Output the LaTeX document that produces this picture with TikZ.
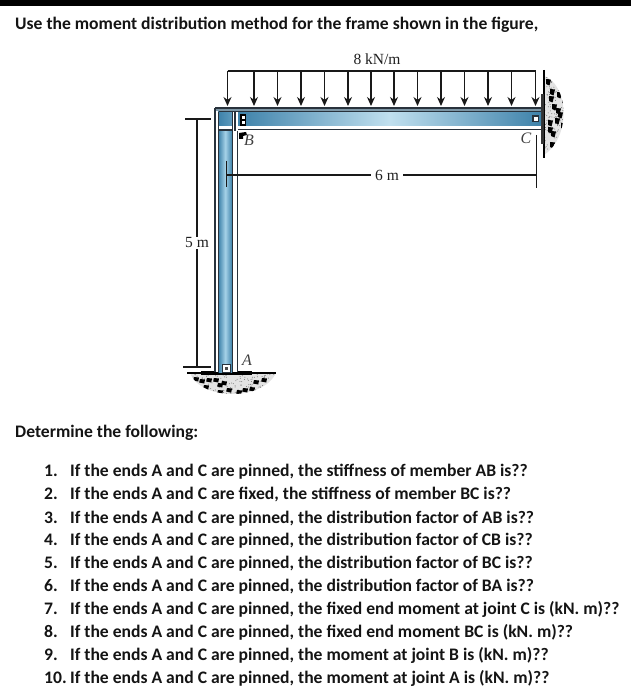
\documentclass[tikz,border=0pt]{standalone}
\usepackage{fontspec}
\setmainfont{Carlito}
\newfontfamily\serifcap{Liberation Serif}
\usetikzlibrary{arrows.meta}
\definecolor{frameline}{RGB}{40,50,60}
\definecolor{bluedark}{RGB}{62,130,170}
\definecolor{bluelight}{RGB}{165,210,232}
\definecolor{flange}{RGB}{125,150,165}
\tikzset{
 qtext/.style={anchor=base west,inner sep=0pt,font=\fontsize{17.6}{20}\selectfont\bfseries,text=black!92},
 jointlabel/.style={inner sep=0pt,font=\fontsize{16}{18}\selectfont\serifcap\itshape,text=black!75},
 dimlabel/.style={inner sep=1pt,font=\fontsize{15.5}{17}\selectfont\serifcap,text=black!88},
 dimline/.style={draw=black!90,line width=1.2pt},
 loadline/.style={draw=black!90,line width=1.2pt},
 loadarrow/.style={draw=black!90,line width=1.2pt,-{Stealth[length=9pt,width=8pt]}},
 edge/.style={draw=frameline,line width=1.1pt},
}
\begin{document}
\begin{tikzpicture}[x=1pt,y=-1pt]
\useasboundingbox (0,0) rectangle (631,700);
\fill[black] (0,0) rectangle (631,6);
% ---------- text
\node[qtext] (title) at (15,30) {Use the moment distribution method for the frame shown in the figure,};
\node[qtext] (det) at (15,437) {Determine the following:};
\foreach \n/\y/\t in {
 1/476/{If the ends A and C are pinned, the stiffness of member AB is??},
 2/499/{If the ends A and C are fixed, the stiffness of member BC is??},
 3/523/{If the ends A and C are pinned, the distribution factor of AB is??},
 4/545/{If the ends A and C are pinned, the distribution factor of CB is??},
 5/568/{If the ends A and C are pinned, the distribution factor of BC is??},
 6/591/{If the ends A and C are pinned, the distribution factor of BA is??},
 7/614/{If the ends A and C are pinned, the fixed end moment at joint C is (kN. m)??},
 8/637/{If the ends A and C are pinned, the fixed end moment BC is (kN. m)??},
 9/660/{If the ends A and C are pinned, the moment at joint B is (kN. m)??},
 10/683/{If the ends A and C are pinned, the moment at joint A is (kN. m)??}}{
 \node[qtext] (n\n) at (44,\y) {\n.};
 \node[qtext] (q\n) at (70,\y) {\t};
}
% ---------- rock, right wall
\begin{scope}
 \fill[gray!22] (544,76) .. controls (568,84) and (572,136) .. (544,155) -- cycle;
 \clip (544,76) .. controls (568,84) and (572,136) .. (544,155) -- cycle;
 \pgfmathsetseed{11}
 \foreach \k in {1,...,200}{\fill[black!55] (544+24*rnd,76+80*rnd) circle (0.5);}
 \foreach \px/\py in {546/79,550/89,557/92,549/96,562/98,552/104,558/112,548/120,555/118,561/123,548/127,551/131,550/142,556/108}{
  \fill[black] (\px,\py) -- ++(5,0.5) -- ++(-1.5,6) -- ++(-3.5,-1.5) -- cycle;}
\end{scope}
% ---------- rock, ground
\begin{scope}
 \fill[gray!22] (190,373) .. controls (200,400) and (262,402) .. (276,373) -- cycle;
 \clip (190,373) .. controls (200,400) and (262,402) .. (276,373) -- cycle;
 \pgfmathsetseed{5}
 \foreach \k in {1,...,200}{\fill[black!55] (190+86*rnd,373+26*rnd) circle (0.5);}
 \foreach \px/\py in {194/377,200/379,207/378,214/378,218/383,222/381,227/388,237/390,243/388,250/387,262/378,254/380,218/390,204/385}{
  \fill[black] (\px,\py) -- ++(5,0.5) -- ++(-0.8,4) -- ++(-5,-1) -- cycle;}
\end{scope}
\draw[black,line width=1.1pt] (187,373) -- (276,373);
\fill[black] (201,371) rectangle (252,374.5);
\draw[black,line width=1.2pt] (544,70) -- (544,158);
\fill[black!80] (540.5,94) rectangle (543.5,144);
% ---------- column
\fill[white] (215,108) rectangle (238,372);
\shade[left color=bluedark,right color=bluedark,middle color=bluelight] (218.5,130) rectangle (232,372);
\shade[left color=bluedark,right color=bluedark!70!bluelight] (218.5,111) rectangle (232,126);
% ---------- beam
\shade[left color=bluedark,right color=bluedark,middle color=bluelight!70!white] (238,112) rectangle (541,125.5);
\fill[flange] (215,108) rectangle (541,111.5);
\draw[edge] (215,108) -- (541,108);
\draw[edge] (218.5,111.5) -- (541,111.5);
\draw[edge] (238,129.5) -- (541,129.5);
\draw[edge] (219,130) -- (232,130);
\draw[edge] (215,108) -- (215,372);
\draw[edge] (218.5,112) -- (218.5,372);
\draw[edge] (232.5,112) -- (232.5,372);
\draw[edge] (237.5,131) -- (237.5,372);
\draw[edge] (235,111) -- (235,131);
% ---------- connections
\fill[black] (240,114) rectangle (246,126);
\fill[white] (241.5,116) rectangle (244.5,119);
\fill[white] (241.5,121) rectangle (244.5,124);
\fill[black] (239,133) -- (246,132) -- (247,135) -- (243,136) -- (243,139) -- (239,139) -- cycle;
\draw[frameline,fill=white,line width=1.5pt] (533,116) rectangle (538.5,121.5);
\draw[frameline,fill=white,line width=1pt] (222.5,364) rectangle (230,372);
\fill[black!70] (225,367) rectangle (227.5,369.5);
\node[jointlabel] (B) at (249,140) {B};
\node[jointlabel] (C) at (526,138) {C};
\node[jointlabel] (A) at (247,360) {A};
% ---------- distributed load
\node[dimlabel] (load) at (377,59) {8 kN/m};
\coordinate (loadL) at (227.5,71);
\coordinate (loadR) at (535.5,71);
\draw[loadline] (loadL) -- (loadR);
\foreach \i/\x in {1/227.5,2/254,3/277.5,4/301,5/324.5,6/348,7/371,8/394,9/417.5,10/441,11/464.5,12/488,13/511.5,14/535.5}{
 \coordinate (lt\i) at (\x,71);
 \coordinate (lb\i) at (\x,106);
 \draw[loadarrow] (lt\i) -- (lb\i);
}
% ---------- 6 m dimension
\node[dimlabel,inner sep=4pt] (six) at (387,175) {6 m};
\coordinate (d6L) at (227,175);
\coordinate (d6R) at (536,175);
\coordinate (t6a) at (226.5,161);
\coordinate (t6b) at (226.5,187);
\coordinate (t6c) at (536.5,135);
\coordinate (t6d) at (536.5,188);
\draw[dimline] (d6L) -- (six);
\draw[dimline] (six) -- (d6R);
\draw[dimline] (t6a) -- (t6b);
\draw[dimline] (t6c) -- (t6d);
% ---------- 5 m dimension
\node[dimlabel,fill=white] (five) at (197,243) {5 m};
\coordinate (d5T) at (197,119);
\coordinate (d5B) at (197,367);
\coordinate (t5a) at (185,119);
\coordinate (t5b) at (211,119);
\coordinate (t5c) at (183,367);
\coordinate (t5d) at (211,367);
\draw[dimline] (d5T) -- (five);
\draw[dimline] (five) -- (d5B);
\draw[dimline] (t5a) -- (t5b);
\draw[dimline] (t5c) -- (t5d);
\end{tikzpicture}
\end{document}
